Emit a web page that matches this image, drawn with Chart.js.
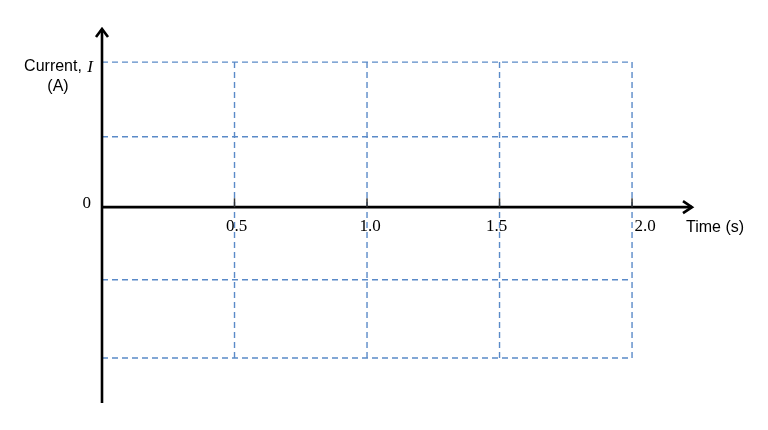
<!DOCTYPE html>
<html>
<head>
<meta charset="utf-8">
<script src="https://cdn.jsdelivr.net/npm/chart.js@4/dist/chart.umd.min.js"></script>
<style>
html, body { margin: 0; padding: 0; background: #fff; }
</style>
</head>
<body>
<canvas id="myChart" width="768" height="430"></canvas>
<script>
// values
var timeTicks = [0.5, 1.0, 1.5, 2.0];
var tickLabels = ['0.5', '1.0', '1.5', '2.0'];
var currentLines = [2, 0.97, -1, -2.08];
var xRange = [0, 2.23];
var yRange = [-2.7, 2.47];
var xTitle = 'Time (s)';
var yTitle = ['Current, ', 'I', '(A)'];
var zeroLabel = '0';

// small nudges of the tick labels, as in the drawing
var labelShift = [2, 3, -3, 13];

var gridColor = '#5a8ac8';

function gridSets() {
    var sets = [];
    for (var i = 0; i < timeTicks.length; i++) {
        sets.push({
            data: [{ x: timeTicks[i], y: currentLines[currentLines.length - 1] },
                   { x: timeTicks[i], y: currentLines[0] }]
        });
    }
    for (var j = 0; j < currentLines.length; j++) {
        sets.push({
            data: [{ x: xRange[0], y: currentLines[j] },
                   { x: timeTicks[timeTicks.length - 1], y: currentLines[j] }]
        });
    }
    sets.forEach(function (s) {
        s.borderColor = gridColor;
        s.borderWidth = 1.4;
        s.borderDash = [6, 4];
        s.pointRadius = 0;
        s.fill = false;
        s.clip = false;
    });
    return sets;
}

const axesPlugin = {
    id: 'axesArrows',
    afterDatasetsDraw: (chart) => {
        const ctx = chart.ctx;
        const xs = chart.scales.x;
        const ys = chart.scales.y;
        const x0 = xs.getPixelForValue(0);
        const y0 = ys.getPixelForValue(0);
        const xEnd = xs.getPixelForValue(xRange[1]);
        const yTop = ys.getPixelForValue(yRange[1]);
        const yBot = ys.getPixelForValue(yRange[0]);
        ctx.save();
        ctx.strokeStyle = '#000';
        ctx.lineWidth = 2.6;
        ctx.lineCap = 'butt';
        // axes
        ctx.beginPath();
        ctx.moveTo(x0, yBot);
        ctx.lineTo(x0, yTop + 1);
        ctx.moveTo(x0 - 1, y0);
        ctx.lineTo(xEnd - 1, y0);
        ctx.stroke();
        // arrow heads
        ctx.lineJoin = 'miter';
        ctx.beginPath();
        ctx.moveTo(x0 - 6, yTop + 9);
        ctx.lineTo(x0, yTop + 1);
        ctx.lineTo(x0 + 6, yTop + 9);
        ctx.moveTo(xEnd - 10, y0 - 6);
        ctx.lineTo(xEnd - 1, y0);
        ctx.lineTo(xEnd - 10, y0 + 6);
        ctx.stroke();
        // small tick marks
        ctx.lineWidth = 1.5;
        ctx.strokeStyle = '#333';
        ctx.beginPath();
        for (var i = 0; i < timeTicks.length; i++) {
            var px = xs.getPixelForValue(timeTicks[i]);
            ctx.moveTo(px, y0 - 9);
            ctx.lineTo(px, y0);
        }
        ctx.stroke();

        // tick labels
        ctx.fillStyle = '#000';
        ctx.font = '17px "Liberation Serif", serif';
        ctx.textAlign = 'center';
        ctx.textBaseline = 'middle';
        for (var k = 0; k < tickLabels.length; k++) {
            ctx.fillText(tickLabels[k], xs.getPixelForValue(timeTicks[k]) + labelShift[k], y0 + 19);
        }
        ctx.textAlign = 'right';
        ctx.fillText(zeroLabel, x0 - 11, y0 - 4);

        // axis titles
        ctx.font = '16px "Liberation Sans", Arial, sans-serif';
        ctx.textAlign = 'left';
        ctx.fillText(xTitle, xEnd - 7, y0 + 20);

        var ty = ys.getPixelForValue(currentLines[0]) + 5;
        ctx.font = 'italic 17px "Liberation Serif", serif';
        var wI = ctx.measureText(yTitle[1]).width;
        ctx.textAlign = 'right';
        ctx.fillText(yTitle[1], x0 - 9, ty);
        ctx.font = '16px "Liberation Sans", Arial, sans-serif';
        ctx.fillText(yTitle[0], x0 - 9 - wI - 1, ty);
        ctx.textAlign = 'center';
        ctx.fillText(yTitle[2], 58, ty + 20);
        ctx.restore();
    }
};

const ctx = document.getElementById('myChart').getContext('2d');
const config = {
    type: 'line',
    data: { datasets: gridSets() },
    options: {
        responsive: false,
        animation: false,
        layout: { padding: { left: 102, right: 75, top: 28, bottom: 27 } },
        plugins: { legend: { display: false }, tooltip: { enabled: false } },
        scales: {
            x: { type: 'linear', min: xRange[0], max: xRange[1], display: false },
            y: { type: 'linear', min: yRange[0], max: yRange[1], display: false }
        }
    },
    plugins: [axesPlugin]
};
new Chart(ctx, config);
</script>
</body>
</html>
